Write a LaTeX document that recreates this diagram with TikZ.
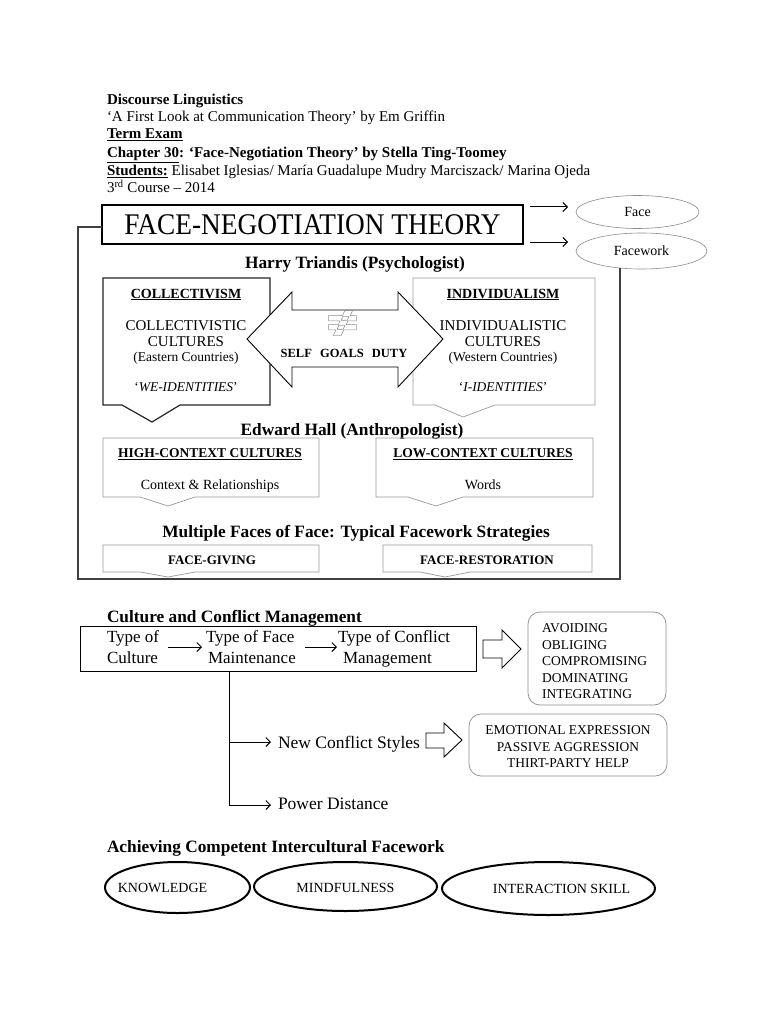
\documentclass[tikz,border=0pt]{standalone}
\usepackage{fontspec}
\usepackage{graphicx}
\setmainfont{Liberation Serif}
\usetikzlibrary{arrows.meta,shapes.geometric}
\newcommand\fsz[1]{\fontsize{#1}{#1}\selectfont}
\begin{document}
\begin{tikzpicture}[x=1pt,y=-1pt,
  every node/.style={inner sep=0pt, outer sep=0pt},
  lt/.style={anchor=base west},
  ct/.style={anchor=base},
  body/.style={font=\fsz{15}},
  small/.style={font=\fsz{13.5}},
  hd/.style={font=\fsz{17.3}\bfseries},
  arr/.style={-{Straight Barb[length=4.5pt,width=9pt,line width=1pt]}, line width=1pt},
  lightline/.style={draw=black!40, line width=0.7pt},
  darkline/.style={draw=black!85, line width=1.2pt},
  frameline/.style={draw=black!75, line width=1.1pt},
  thinell/.style={ellipse, draw=black!45, line width=0.6pt, font=\fsz{14}},
  boldell/.style={ellipse, draw=black, line width=2pt},
  rbox/.style={draw=black!45, line width=0.7pt, rounded corners=12pt},
  hollow/.style={draw=black, line width=0.9pt, fill=white},
  cmtxt/.style={lt, font=\fsz{17}},
]
\useasboundingbox (0,0) rectangle (768,1024);
\fill[white] (0,0) rectangle (768,1024);

% ---------- header ----------
\node[lt, body] (h1) at (107,105) {\bfseries Discourse Linguistics};
\node[lt, body] (h2) at (107,122) {‘A First Look at Communication Theory’ by Em Griffin};
\node[lt, body] (h3) at (107,139) {\bfseries\underline{Term Exam}};
\node[lt, body] (h4) at (107,158) {\bfseries\underline{Chapter 30}: ‘Face-Negotiation Theory’ by Stella Ting-Toomey};
\node[lt, body] (h5) at (107,176) {\textbf{\underline{Students:}} Elisabet Iglesias/ María Guadalupe Mudry Marciszack/ Marina Ojeda};
\node[lt, body] (h6) at (107,193) {3\textsuperscript{rd} Course – 2014};

% ---------- title and frame ----------
\node[draw=black, line width=1.1pt, minimum width=421pt, minimum height=39pt, font=\fsz{30}] (title) at (312.5,224.5) {\scalebox{0.91}[1]{FACE-NEGOTIATION THEORY}};
\node[thinell, minimum width=123pt, minimum height=33pt] (face) at (637.5,212) {Face};
\node[thinell, minimum width=131pt, minimum height=36pt] (facework) at (641.5,251) {Facework};
\coordinate (a1s) at (530,207);
\coordinate (a2s) at (530,242);
\draw[arr] (a1s) -- (a1s -| 568,0);
\draw[arr] (a2s) -- (a2s -| 568,0);
\coordinate (fl) at (78,227);
\coordinate (fbl) at (78,579);
\coordinate (fbr) at (620,579);
\coordinate (ftr) at (620,268);
\draw[frameline] (title.west |- fl) -- (fl) -- (fbl) -- (fbr) -- (ftr);

\node[ct, hd] (triandis) at (355,268) {Harry Triandis (Psychologist)};

% ---------- collectivism / individualism ----------
\draw[darkline] (103,278) -- (270,278) -- (270,405) -- (180,405) -- (152,422) -- (122,405) -- (103,405) -- cycle;
\draw[lightline] (413,278) -- (595,278) -- (595,405) -- (495,405) -- (463,417) -- (435,405) -- (413,405) -- cycle;

\node[ct, font=\fsz{14}\bfseries] (colt) at (186,298) {\underline{COLLECTIVISM}};
\node[ct, body] (col1) at (186,330) {COLLECTIVISTIC};
\node[ct, body] (col2) at (186,346) {CULTURES};
\node[ct, small] (col3) at (186,361) {(Eastern Countries)};
\node[ct, small] (col4) at (186,391) {‘\textit{WE-IDENTITIES}’};

\node[ct, font=\fsz{14}\bfseries] (indt) at (503,298) {\underline{INDIVIDUALISM}};
\node[ct, body] (ind1) at (503,330) {INDIVIDUALISTIC};
\node[ct, body] (ind2) at (503,346) {CULTURES};
\node[ct, small] (ind3) at (503,361) {(Western Countries)};
\node[ct, small] (ind4) at (503,391) {‘\textit{I-IDENTITIES}’};

\draw[line width=0.9pt, fill=white] (247,339) -- (292,292) -- (292,310) -- (398,310) -- (398,292) -- (443,339) -- (398,387) -- (398,367) -- (292,367) -- (292,387) -- cycle;
% not-equal sign (outlined)
\draw[black!45, line width=1.3pt] (345,311) -- (352,311) -- (341,335) -- (334,335) -- cycle (329,316) rectangle (356,320.5) (329,325) rectangle (356,329.5);
\fill[white] (345,311) -- (352,311) -- (341,335) -- (334,335) -- cycle (329,316) rectangle (356,320.5) (329,325) rectangle (356,329.5);
\node[ct, font=\fsz{12.5}\bfseries] (sgd) at (344,357.5) {SELF\hspace{5pt} GOALS\hspace{5pt} DUTY};

% ---------- Hall ----------
\node[ct, hd] (hall) at (352,435) {Edward Hall (Anthropologist)};
\draw[lightline] (103,438) -- (319,438) -- (319,497) -- (195,497) -- (168,506) -- (140,497) -- (103,497) -- cycle;
\draw[lightline] (376,438) -- (593,438) -- (593,497) -- (463,497) -- (436,506) -- (408,497) -- (376,497) -- cycle;
\node[ct, font=\fsz{13.5}\bfseries] (hct) at (210,457.5) {\underline{HIGH-CONTEXT CULTURES}};
\node[ct, font=\fsz{14}] (hc1) at (210,489.5) {Context \& Relationships};
\node[ct, font=\fsz{13.5}\bfseries] (lct) at (483,457.5) {\underline{LOW-CONTEXT CULTURES}};
\node[ct, font=\fsz{14}] (lc1) at (483,489.5) {Words};

% ---------- Multiple faces ----------
\node[ct, hd] (mult) at (356,537) {Multiple Faces of Face: Typical Facework Strategies};
\draw[lightline] (103,545) -- (319,545) -- (319,572) -- (195,572) -- (168,577) -- (140,572) -- (103,572) -- cycle;
\draw[lightline] (383,545) -- (592,545) -- (592,572) -- (470,572) -- (445,577) -- (420,572) -- (383,572) -- cycle;
\node[ct, font=\fsz{13}\bfseries] (fg) at (212,564.5) {FACE-GIVING};
\node[ct, font=\fsz{13}\bfseries] (fr) at (487,564.5) {FACE-RESTORATION};

% ---------- Culture and conflict ----------
\node[lt, hd] (ccm) at (107,622) {Culture and Conflict Management};
\node[draw=black, line width=1pt, minimum width=396pt, minimum height=45pt] (cbox) at (278,648.5) {};
\node[cmtxt] (tc1) at (107,642) {Type of};
\node[cmtxt] (tc2) at (107,663) {Culture};
\node[cmtxt] (tf1) at (206,642) {Type of Face};
\node[cmtxt] (tf2) at (208,663) {Maintenance};
\node[cmtxt] (tm1) at (338,642) {Type of Conflict};
\node[cmtxt] (tm2) at (343,663) {Management};
\coordinate (c1a) at (168,647); \coordinate (c1b) at (202,647);
\coordinate (c2a) at (305,647); \coordinate (c2b) at (337,647);
\draw[arr] (c1a) -- (c1b);
\draw[arr] (c2a) -- (c2b);

\draw[hollow] (483,640) -- (502,640) -- (502,630) -- (521,649) -- (502,668) -- (502,658) -- (483,658) -- cycle;
\node[rbox, minimum width=138pt, minimum height=93pt] (styles) at (597,658.5) {};
\node[lt, font=\fsz{13.5}] (s1) at (542,632.5) {AVOIDING};
\node[lt, font=\fsz{13.5}] (s2) at (542,649.5) {OBLIGING};
\node[lt, font=\fsz{13.5}] (s3) at (542,665.5) {COMPROMISING};
\node[lt, font=\fsz{13.5}] (s4) at (542,682.5) {DOMINATING};
\node[lt, font=\fsz{13.5}] (s5) at (542,698.5) {INTEGRATING};

\coordinate (vt) at (229,671);
\coordinate (b1) at (229,742);
\node[lt, font=\fsz{17.5}] (ncs) at (278,748) {New Conflict Styles};
\node[lt, font=\fsz{17.5}] (pd) at (278,809) {Power Distance};
\draw[arr] (vt) |- ([xshift=-7pt]pd.west |- 0,805);
\draw[arr] (b1) -- ([xshift=-7pt]ncs.west |- b1);

\draw[hollow] (426,733) -- (444,733) -- (444,723) -- (462,740) -- (444,757) -- (444,748) -- (426,748) -- cycle;
\node[rbox, minimum width=198pt, minimum height=62pt] (newst) at (568,745) {};
\node[ct, font=\fsz{13.5}] (n1) at (568,734.5) {EMOTIONAL EXPRESSION};
\node[ct, font=\fsz{13.5}] (n2) at (568,751.5) {PASSIVE AGGRESSION};
\node[ct, font=\fsz{13.5}] (n3) at (568,767.5) {THIRT-PARTY HELP};

% ---------- Achieving ----------
\node[lt, hd] (ach) at (107,852) {Achieving Competent Intercultural Facework};
\node[boldell, minimum width=145pt, minimum height=51pt] (kn) at (177.5,887.5) {};
\node[boldell, minimum width=183pt, minimum height=49pt] (mi) at (345.5,886.5) {};
\node[boldell, minimum width=213pt, minimum height=53pt] (is) at (548.5,888.5) {};
\node[font=\fsz{14}] (knt) at ([xshift=-15pt]kn.center) {KNOWLEDGE};
\node[font=\fsz{14}] (mit) at ([yshift=-1pt]mi.center) {MINDFULNESS};
\node[font=\fsz{14}] (ist) at ([xshift=13pt]is.center) {INTERACTION SKILL};
\end{tikzpicture}
\end{document}
